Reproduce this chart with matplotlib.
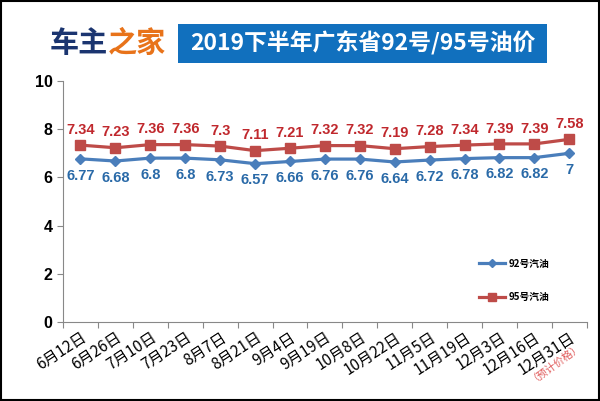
import matplotlib
matplotlib.use('Agg')
import matplotlib.pyplot as plt
from matplotlib.patches import Rectangle
from matplotlib.transforms import ScaledTranslation

plt.rcParams['font.family'] = ['Noto Sans CJK SC', 'DejaVu Sans']

dates = ['6月12日', '6月26日', '7月10日', '7月23日', '8月7日', '8月21日', '9月4日',
         '9月19日', '10月8日', '10月22日', '11月5日', '11月19日', '12月3日',
         '12月16日', '12月31日']
p92 = [6.77, 6.68, 6.8, 6.8, 6.73, 6.57, 6.66, 6.76, 6.76, 6.64, 6.72, 6.78, 6.82, 6.82, 7]
p95 = [7.34, 7.23, 7.36, 7.36, 7.3, 7.11, 7.21, 7.32, 7.32, 7.19, 7.28, 7.34, 7.39, 7.39, 7.58]
lbl92 = ['6.77', '6.68', '6.8', '6.8', '6.73', '6.57', '6.66', '6.76', '6.76', '6.64',
         '6.72', '6.78', '6.82', '6.82', '7']
lbl95 = ['7.34', '7.23', '7.36', '7.36', '7.3', '7.11', '7.21', '7.32', '7.32', '7.19',
         '7.28', '7.34', '7.39', '7.39', '7.58']

blue = '#4a7ebb'
red = '#be4b48'

fig = plt.figure(figsize=(6, 4.01), dpi=100)
# outer frame
fig.patches.append(Rectangle((0.002, 0.002), 0.996, 0.996, transform=fig.transFigure,
                             fill=False, edgecolor='black', linewidth=1.5))

ax = fig.add_axes([0.105, 0.197, 0.873, 0.601])
x = list(range(len(dates)))
ax.plot(x, p92, color=blue, marker='D', markersize=5.5, linewidth=2.3, label='92号汽油')
ax.plot(x, p95, color=red, marker='s', markersize=6.5, linewidth=2.3, label='95号汽油')

for i in x:
    ax.annotate(lbl92[i], (i, p92[i]), xytext=(0, -7), textcoords='offset points',
                ha='center', va='top', color='#2a6aa8', fontsize=10.5, fontweight='bold',
                family='Liberation Sans')
    ax.annotate(lbl95[i], (i, p95[i]), xytext=(0, 6), textcoords='offset points',
                ha='center', va='bottom', color='#c0282d', fontsize=10.5, fontweight='bold',
                family='Liberation Sans')

ax.set_ylim(0, 10)
ax.set_yticks([0, 2, 4, 6, 8, 10])
ax.set_xlim(-0.5, len(dates) - 0.5)
ax.set_xticks([i - 0.5 for i in range(len(dates) + 1)])
ax.set_xticklabels([])
ax.set_xticks(x, minor=True)
ax.set_xticklabels(dates, minor=True, rotation=33, ha='right', va='top',
                   fontsize=11, rotation_mode='anchor')
for t in ax.get_xticklabels(minor=True):
    t.set_transform(t.get_transform() + ScaledTranslation(7 / 72, 0, fig.dpi_scale_trans))
ax.tick_params(axis='x', which='minor', length=0, pad=5)
ax.tick_params(axis='x', which='major', length=4, color='#888888')
ax.tick_params(axis='y', length=4, color='#888888', labelsize=11.5)
for t in ax.get_yticklabels():
    t.set_fontweight('bold')
    t.set_family('Liberation Sans')
for s in ['top', 'right']:
    ax.spines[s].set_visible(False)
for s in ['left', 'bottom']:
    ax.spines[s].set_color('#888888')

ax.text(0.895, -0.25, '（预计价格）', rotation=36, color='#e05a5a', fontsize=7.5,
        ha='left', va='bottom', rotation_mode='anchor', transform=ax.transAxes)

leg = ax.legend(loc='center left', bbox_to_anchor=(0.785, 0.172), frameon=False,
                labelspacing=2.4, handlelength=2.7, handletextpad=0.3, borderpad=0,
                markerscale=0.8, prop={'weight': 'bold', 'size': 7})

# header
fig.text(50 / 600, 0.892, '车主', fontsize=21, fontweight='bold', color='#1b3570',
         ha='left', va='center')
fig.text(108 / 600, 0.892, '之家', fontsize=21, fontweight='bold', color='#e8731a',
         ha='left', va='center')
fig.patches.append(Rectangle((178 / 600, 1 - 63 / 401), 369 / 600, 39 / 401,
                             transform=fig.transFigure, facecolor='#1170be',
                             edgecolor='none'))
fig.text(362.5 / 600, 0.8915, '2019下半年广东省92号/95号油价', fontsize=16.5,
         fontweight='bold', color='white', ha='center', va='center')

fig.savefig('out.png', dpi=100)
